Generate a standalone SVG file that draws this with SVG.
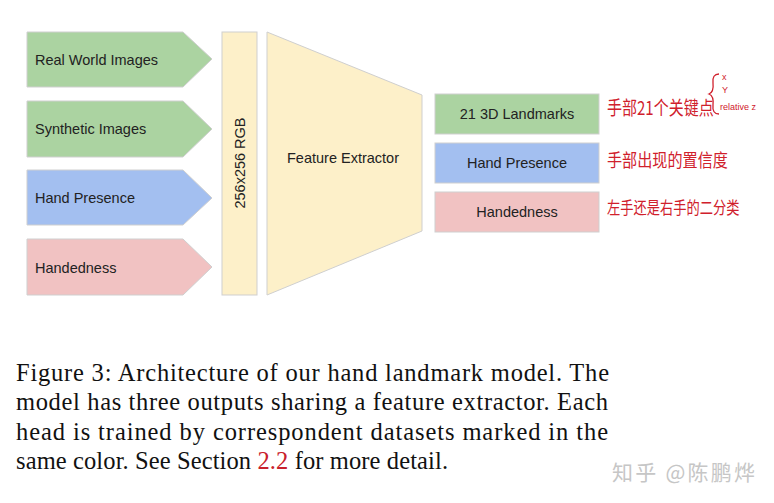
<svg xmlns="http://www.w3.org/2000/svg" width="774" height="503" viewBox="0 0 774 503">
<style>
.lbl{font-family:"Liberation Sans",Arial,sans-serif;font-size:14.5px;fill:#222}
.shape{stroke:#cfcfcf;stroke-width:1}
.green{fill:#abd3a1}
.blue{fill:#a3bff0}
.pink{fill:#f1c2c2}
.yellow{fill:#fdf0c9}
.hand{font-family:"Noto Sans CJK SC",sans-serif;fill:#d0202c}
.small{font-family:"Liberation Sans",Arial,sans-serif;fill:#d0202c;font-size:9px}
.cap{font-family:"Liberation Serif","Times New Roman",serif;font-size:24.5px;fill:#111}
</style>
<rect width="774" height="503" fill="#ffffff"/>
<g id="in-real">
<polygon class="shape green" points="27,32 183,32 212,59 183,87 27,87"/>
<text class="lbl" x="35" y="65">Real World Images</text>
</g>
<g id="in-synth">
<polygon class="shape green" points="27,101 183,101 212,129 183,157 27,157"/>
<text class="lbl" x="35" y="134">Synthetic Images</text>
</g>
<g id="in-presence">
<polygon class="shape blue" points="27,170 183,170 212,198 183,225 27,225"/>
<text class="lbl" x="35" y="203">Hand Presence</text>
</g>
<g id="in-handedness">
<polygon class="shape pink" points="27,239 183,239 212,267 183,295 27,295"/>
<text class="lbl" x="35" y="273">Handedness</text>
</g>
<g id="rgb">
<rect class="shape yellow" x="222" y="32" width="35" height="263"/>
<text class="lbl" transform="translate(244.5,163) rotate(-90)" text-anchor="middle">256x256 RGB</text>
</g>
<g id="extractor">
<polygon class="shape yellow" points="267,32 422,95 422,231 267,295"/>
<text class="lbl" x="343" y="163" text-anchor="middle">Feature Extractor</text>
</g>
<g id="out-landmarks">
<rect class="shape green" x="435" y="94" width="164" height="40"/>
<text class="lbl" x="517" y="119" text-anchor="middle">21 3D Landmarks</text>
</g>
<g id="out-presence">
<rect class="shape blue" x="435" y="143" width="164" height="40"/>
<text class="lbl" x="517" y="168" text-anchor="middle">Hand Presence</text>
</g>
<g id="out-handedness">
<rect class="shape pink" x="435" y="192" width="164" height="40"/>
<text class="lbl" x="517" y="217" text-anchor="middle">Handedness</text>
</g>
<g id="connectors"></g>
<g id="notes">
<text class="hand" font-size="19" transform="translate(607,115) scale(0.79,1)">手部21个关键点</text>
<path d="M719,74 Q712,74 713,83 Q714,92 709,94 Q714,96 713,105 Q712,114 719,114" fill="none" stroke="#d0202c" stroke-width="1.3"/>
<text class="small"><tspan x="722" y="80">x</tspan><tspan x="722" y="93">Y</tspan><tspan x="720" y="110">relative z</tspan></text>
<text class="hand" font-size="18" transform="translate(607,167) scale(0.84,1)">手部出现的置信度</text>
<text class="hand" font-size="17" transform="translate(607,214) scale(0.78,1)">左手还是右手的二分类</text>
</g>
<g id="caption">
<text class="cap" x="16" y="381" textLength="593" lengthAdjust="spacing">Figure 3:  Architecture of our hand landmark model.  The</text>
<text class="cap" x="16" y="410" textLength="592" lengthAdjust="spacing">model has three outputs sharing a feature extractor.  Each</text>
<text class="cap" x="16" y="440" textLength="592" lengthAdjust="spacing">head is trained by correspondent datasets marked in the</text>
<text class="cap" x="16" y="469" textLength="432" lengthAdjust="spacing">same color. See Section <tspan fill="#c8202c">2.2</tspan> for more detail.</text>
</g>
<g id="watermark">
<text x="612" y="480" font-family="'Noto Sans CJK SC',sans-serif" font-size="21" fill="#c6c6c6" textLength="143" lengthAdjust="spacing">知乎 @陈鹏烨</text>
</g>
</svg>
